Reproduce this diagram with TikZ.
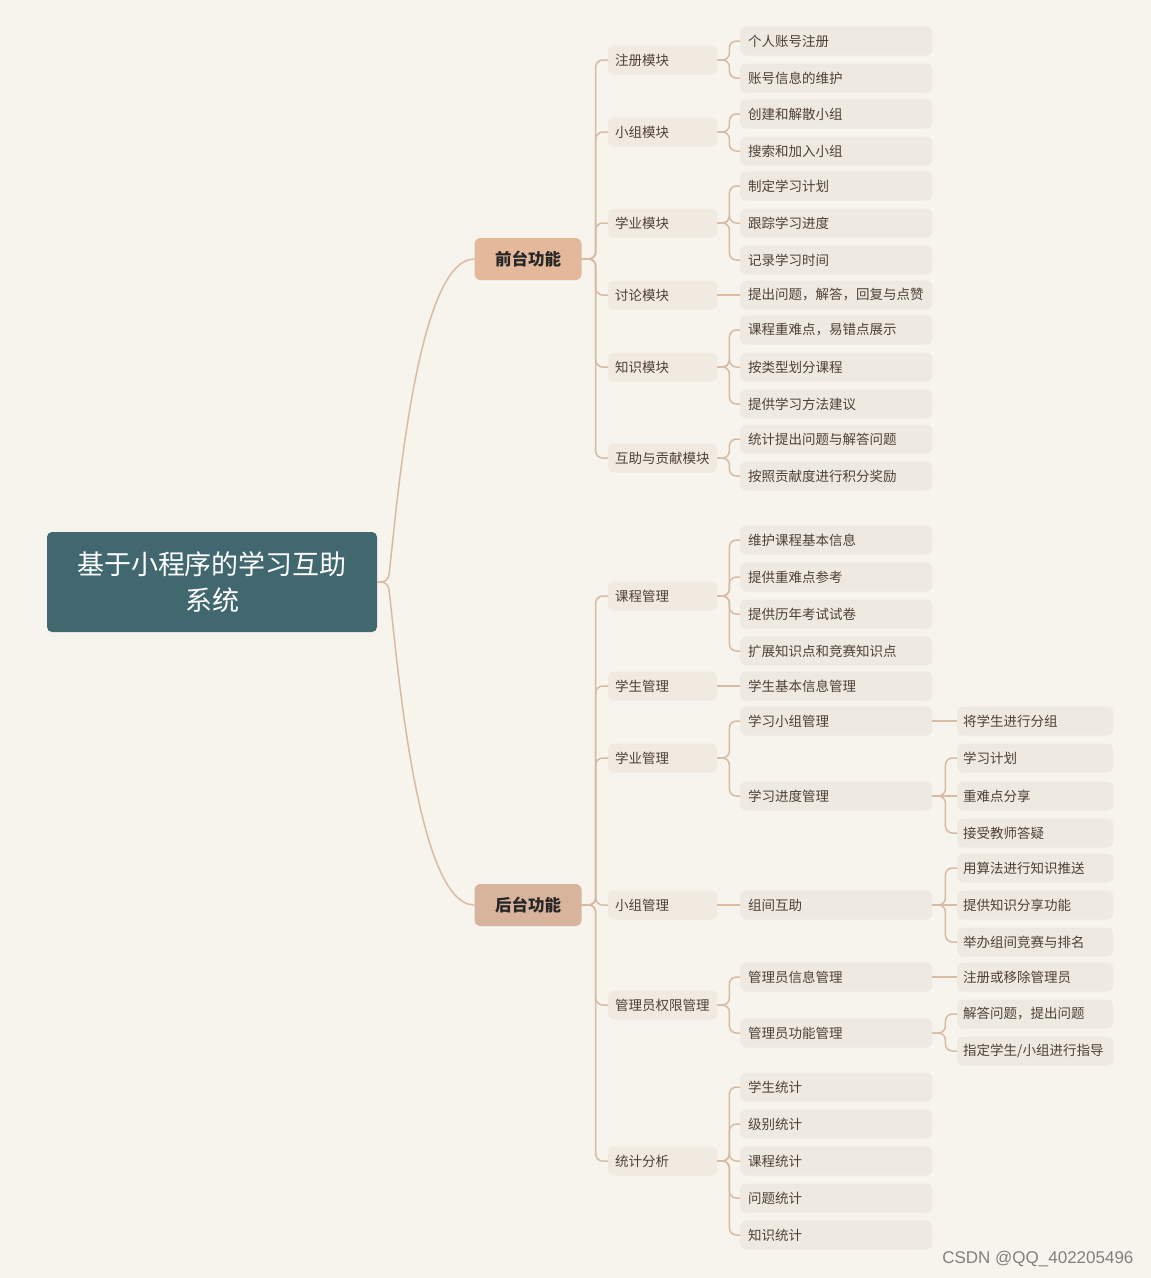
\documentclass[tikz,border=0pt]{standalone}
\usepackage{fontspec}
\setmainfont{Noto Sans CJK SC}
\newfontfamily\wmfont{Liberation Sans}

\definecolor{bgcream}{HTML}{F6F4ED}
\definecolor{rootteal}{HTML}{41686F}
\definecolor{mainpeach}{HTML}{E3B89B}
\definecolor{mainsand}{HTML}{D9B49C}
\definecolor{subfill}{HTML}{F1EAE0}
\definecolor{leaffill}{HTML}{EFEAE1}
\definecolor{linetan}{HTML}{D9BBA4}
\definecolor{textbrown}{HTML}{4E4038}

\begin{document}
\begin{tikzpicture}[x=1pt,y=-1pt,
  rootbox/.style={fill=rootteal,rounded corners=5pt,text=white,font=\fontsize{27}{36}\selectfont,align=center,minimum width=330pt,minimum height=100pt,inner sep=0pt},
  mainbox/.style={rounded corners=6pt,text=black!85,font=\bfseries\fontsize{16.5}{20}\selectfont,minimum width=107pt,minimum height=42pt,inner sep=0pt},
  subbox/.style={anchor=west,fill=subfill,rounded corners=6pt,text=textbrown,font=\fontsize{13.5}{16}\selectfont,text width=95pt,align=left,inner xsep=7pt,minimum height=29pt},
  leafbox/.style={anchor=west,fill=leaffill,rounded corners=6pt,text=textbrown,font=\fontsize{13.5}{16}\selectfont,text width=176pt,align=left,inner xsep=8pt,minimum height=29pt},
  tipbox/.style={anchor=west,fill=leaffill,rounded corners=6pt,text=textbrown,font=\fontsize{13.5}{16}\selectfont,text width=144pt,align=left,inner xsep=6pt,minimum height=29pt},
  link/.style={draw=linetan,line width=1.5pt,rounded corners=7pt}]

% Background
\fill[bgcream] (0,0) rectangle (1151,1278);

% Root
\node[rootbox] (root) at (212,582) {基于小程序的学习互助\\系统};

% Main branches
\node[mainbox,fill=mainpeach] (front) at (528,259) {前台功能};
\node[mainbox,fill=mainsand] (back) at (528,905) {后台功能};

\draw[link] (root.east) -- (388,582) .. controls (396,520) and (415,259) .. (front.west);
\draw[link] (root.east) -- (388,582) .. controls (396,644) and (415,905) .. (back.west);

% Front modules
\node[subbox] (reg) at (608,60) {注册模块};
\node[subbox] (grp) at (608,132) {小组模块};
\node[subbox] (stu) at (608,223) {学业模块};
\node[subbox] (dis) at (608,295) {讨论模块};
\node[subbox] (kno) at (608,367) {知识模块};
\node[subbox] (mut) at (608,458) {互助与贡献模块};

\node[leafbox] (reg1) at (740,41) {个人账号注册};
\node[leafbox] (reg2) at (740,78) {账号信息的维护};
\node[leafbox] (grp1) at (740,114) {创建和解散小组};
\node[leafbox] (grp2) at (740,151) {搜索和加入小组};
\node[leafbox] (stu1) at (740,186) {制定学习计划};
\node[leafbox] (stu2) at (740,223) {跟踪学习进度};
\node[leafbox] (stu3) at (740,260) {记录学习时间};
\node[leafbox] (dis1) at (740,295) {提出问题，解答，回复与点赞};
\node[leafbox] (kno1) at (740,330) {课程重难点，易错点展示};
\node[leafbox] (kno2) at (740,367) {按类型划分课程};
\node[leafbox] (kno3) at (740,404) {提供学习方法建议};
\node[leafbox] (mut1) at (740,439) {统计提出问题与解答问题};
\node[leafbox] (mut2) at (740,476) {按照贡献度进行积分奖励};

% Back modules
\node[subbox] (crs) at (608,596) {课程管理};
\node[subbox] (spm) at (608,686) {学生管理};
\node[subbox] (acd) at (608,758) {学业管理};
\node[subbox] (gmg) at (608,905) {小组管理};
\node[subbox] (adm) at (608,1005) {管理员权限管理};
\node[subbox] (sta) at (608,1161) {统计分析};

\node[leafbox] (crs1) at (740,540) {维护课程基本信息};
\node[leafbox] (crs2) at (740,577) {提供重难点参考};
\node[leafbox] (crs3) at (740,614) {提供历年考试试卷};
\node[leafbox] (crs4) at (740,651) {扩展知识点和竞赛知识点};
\node[leafbox] (spm1) at (740,686) {学生基本信息管理};
\node[leafbox] (acd1) at (740,721) {学习小组管理};
\node[leafbox] (acd2) at (740,796) {学习进度管理};
\node[leafbox] (gmg1) at (740,905) {组间互助};
\node[leafbox] (adm1) at (740,977) {管理员信息管理};
\node[leafbox] (adm2) at (740,1033) {管理员功能管理};
\node[leafbox] (sta1) at (740,1087) {学生统计};
\node[leafbox] (sta2) at (740,1124) {级别统计};
\node[leafbox] (sta3) at (740,1161) {课程统计};
\node[leafbox] (sta4) at (740,1198) {问题统计};
\node[leafbox] (sta5) at (740,1235) {知识统计};

\node[tipbox] (acd1a) at (957,721) {将学生进行分组};
\node[tipbox] (acd2a) at (957,758) {学习计划};
\node[tipbox] (acd2b) at (957,796) {重难点分享};
\node[tipbox] (acd2c) at (957,833) {接受教师答疑};
\node[tipbox] (gmg1a) at (957,868) {用算法进行知识推送};
\node[tipbox] (gmg1b) at (957,905) {提供知识分享功能};
\node[tipbox] (gmg1c) at (957,942) {举办组间竞赛与排名};
\node[tipbox] (adm1a) at (957,977) {注册或移除管理员};
\node[tipbox] (adm2a) at (957,1014) {解答问题，提出问题};
\node[tipbox] (adm2b) at (957,1051) {指定学生/小组进行指导};

% Links
\foreach \p/\c in {front/reg,front/grp,front/stu,front/dis,front/kno,front/mut,
                   back/crs,back/spm,back/acd,back/gmg,back/adm,back/sta}
  \draw[link] (\p.east) -- ++(14,0) |- (\c.west);

\foreach \p/\c in {reg/reg1,reg/reg2,grp/grp1,grp/grp2,stu/stu1,stu/stu2,stu/stu3,
                   kno/kno1,kno/kno2,kno/kno3,mut/mut1,mut/mut2,
                   crs/crs1,crs/crs2,crs/crs3,crs/crs4,acd/acd1,acd/acd2,
                   adm/adm1,adm/adm2,
                   sta/sta1,sta/sta2,sta/sta3,sta/sta4,sta/sta5}
  \draw[link] (\p.east) -- ++(12,0) |- (\c.west);

\foreach \p/\c in {acd2/acd2a,acd2/acd2c,gmg1/gmg1a,gmg1/gmg1c,adm2/adm2a,adm2/adm2b}
  \draw[link] (\p.east) -- ++(13,0) |- (\c.west);

% Single children
\foreach \p/\c in {dis/dis1,spm/spm1,gmg/gmg1,acd1/acd1a,acd2/acd2b,gmg1/gmg1b,adm1/adm1a}
  \draw[link] (\p.east) -- (\c.west);

% Watermark
\node[anchor=east,text=black!50,font=\wmfont\fontsize{17}{20}\selectfont] (wmark) at (1137,1259) {CSDN @QQ\_402205496};

\end{tikzpicture}
\end{document}
